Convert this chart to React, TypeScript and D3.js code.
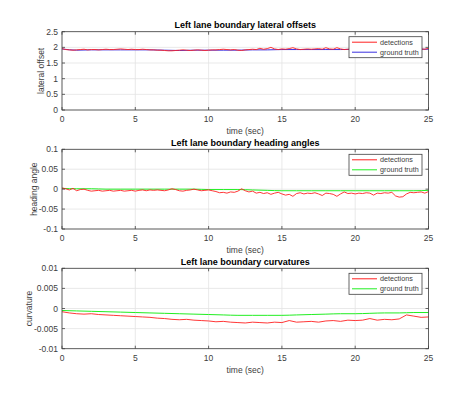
import React from "react";
import * as d3 from "d3";

const W = 474;
const H = 395;

const xTicks = [0, 5, 10, 15, 20, 25];

// Plot 1: lateral offsets
const latTicks = [0, 0.5, 1, 1.5, 2, 2.5];
const latTruth = [1.95, 1.91, 1.92, 1.92, 1.92, 1.92, 1.92, 1.91, 1.9, 1.91, 1.91, 1.91, 1.91, 1.92, 1.92, 1.93, 1.93, 1.93, 1.93, 1.93, 1.94, 1.94, 1.94, 1.94, 1.94, 1.94];
const latDet = [
  1.96, 1.93, 1.92, 1.91, 1.92, 1.93, 1.94, 1.92, 1.93, 1.93, 1.92, 1.93, 1.94, 1.93, 1.93, 1.94,
  1.95, 1.94, 1.93, 1.94, 1.93, 1.93, 1.94, 1.93,
  1.92, 1.92, 1.91, 1.91, 1.9, 1.89, 1.89, 1.9,
  1.91, 1.92, 1.91, 1.9, 1.91, 1.92, 1.91, 1.9,
  1.91, 1.92, 1.92, 1.93, 1.94, 1.93, 1.92, 1.93,
  1.91, 1.9, 1.92, 1.93, 1.94, 1.93, 1.97, 1.94,
  1.96, 2.0, 1.95, 1.93, 1.95, 1.94, 1.96, 1.99,
  1.95, 1.93, 1.94, 1.95, 1.94, 1.95, 1.96, 1.94,
  1.99, 1.95, 1.94, 1.99, 1.95, 1.93, 1.94, 1.95,
  1.94, 1.95, 1.94, 1.95, 1.96, 1.95, 1.94, 1.95,
  1.96, 1.94, 1.95, 1.94, 1.95, 1.96, 1.95, 1.94,
  1.95, 1.94, 1.95, 1.94, 1.97,
];

// Plot 2: heading angles
const headTicks = [-0.1, -0.05, 0, 0.05, 0.1];
const headTruth = [0.002, 0.001, 0.001, 0, 0, 0, 0, 0, 0, 0, -0.001, -0.001, -0.001, -0.002, -0.003, -0.004, -0.004, -0.004, -0.004, -0.004, -0.004, -0.004, -0.004, -0.004, -0.004, -0.003];
const headDet = [
  0.003, 0.001, -0.002, 0.002, -0.004, -0.001, 0, -0.003, -0.005, -0.004, -0.003, -0.005, -0.004, -0.003, -0.005, -0.004,
  -0.003, -0.005, -0.004, -0.003, -0.005, -0.003, -0.002, -0.004,
  -0.002, -0.003, -0.002, -0.003, -0.004, -0.002, 0.001, -0.001,
  -0.004, -0.005, -0.003, -0.002, 0.0, -0.002, -0.004, -0.003,
  -0.002, -0.004, -0.006, -0.009, -0.008, -0.01, -0.007, -0.008,
  -0.005, 0.001, -0.004, -0.007, -0.005, -0.01, -0.008, -0.011,
  -0.009, -0.013, -0.01, -0.008, -0.012, -0.015, -0.013, -0.018,
  -0.011, -0.009, -0.012, -0.01, -0.011, -0.009, -0.012, -0.016,
  -0.01, -0.011, -0.013, -0.018, -0.012, -0.007, -0.011, -0.01,
  -0.012, -0.01, -0.011, -0.009, -0.01, -0.015, -0.01, -0.011,
  -0.009, -0.01, -0.008, -0.017, -0.02, -0.019, -0.012, -0.008,
  -0.009, -0.008, -0.007, -0.01, -0.006,
];

// Plot 3: curvatures
const curvTicks = [-0.01, -0.005, 0, 0.005, 0.01];
const curvTruth = [-0.0005, -0.0006, -0.0007, -0.0008, -0.0009, -0.001, -0.0011, -0.0012, -0.0013, -0.0014, -0.0015, -0.0016, -0.0017, -0.0017, -0.0017, -0.0017, -0.0016, -0.0015, -0.0014, -0.0013, -0.0013, -0.0012, -0.0011, -0.0011, -0.001, -0.001];
const curvDet = [
  -0.0008, -0.0011, -0.0013, -0.0014, -0.0013, -0.0015, -0.0016, -0.0017, -0.0018, -0.0019,
  -0.002, -0.0021, -0.0022, -0.0024, -0.0025, -0.0027, -0.0028, -0.0027, -0.0029, -0.003,
  -0.0031, -0.0033, -0.0032, -0.0034, -0.0035, -0.0036, -0.0034, -0.0035, -0.0036, -0.0034,
  -0.0035, -0.003, -0.0034, -0.0033, -0.0032, -0.0034, -0.0031, -0.003, -0.0032, -0.0029,
  -0.003, -0.0029, -0.0025, -0.0029, -0.0027, -0.0028, -0.0026, -0.0016, -0.0019, -0.0022, -0.0021,
];

const titles = ["Left lane boundary lateral offsets", "Left lane boundary heading angles", "Left lane boundary curvatures"];
const yLabels = ["lateral offset", "heading angle", "curvature"];
const legendLabels = ["detections", "ground truth"];

const FONT = "Liberation Sans, Arial, Helvetica, sans-serif";
const AX = "#404040";
const GRID = "#e3e3e3";

type PanelProps = {
  top: number;
  bottom: number;
  yDomain: [number, number];
  yTicks: number[];
  det: number[];
  truth: number[];
  truthColor: string;
  title: string;
  yLabel: string;
  yLabelX: number;
};

const L = 62;
const R = 428.5;

function Panel(p: PanelProps) {
  const x = d3.scaleLinear().domain([0, 25]).range([L, R]);
  const y = d3.scaleLinear().domain(p.yDomain).range([p.bottom, p.top]);
  const detT = (i: number) => (i * 25) / (p.det.length - 1);
  const truT = (i: number) => (i * 25) / (p.truth.length - 1);
  const lineDet = d3.line<number>().x((d, i) => x(detT(i))).y((d) => y(d));
  const lineTru = d3.line<number>().x((d, i) => x(truT(i))).y((d) => y(d)).curve(d3.curveMonotoneX);
  const fmt = (v: number) => String(+v.toPrecision(6));
  const lx = 349, ly = p.top + 5, lw = 73, lh = 21;
  return (
    <g>
      {xTicks.map((t) => (
        <line key={"gx" + t} x1={x(t)} x2={x(t)} y1={p.top} y2={p.bottom} stroke={GRID} strokeWidth={0.8} />
      ))}
      {p.yTicks.map((t) => (
        <line key={"gy" + t} x1={L} x2={R} y1={y(t)} y2={y(t)} stroke={GRID} strokeWidth={0.8} />
      ))}
      <path d={lineTru(p.truth) || ""} fill="none" stroke={p.truthColor} strokeWidth={1} />
      <path d={lineDet(p.det) || ""} fill="none" stroke="#ff2020" strokeWidth={0.9} />
      <rect x={L} y={p.top} width={R - L} height={p.bottom - p.top} fill="none" stroke={AX} strokeWidth={0.8} />
      {xTicks.map((t) => (
        <g key={"tx" + t}>
          <line x1={x(t)} x2={x(t)} y1={p.bottom} y2={p.bottom - 3} stroke={AX} strokeWidth={0.8} />
          <line x1={x(t)} x2={x(t)} y1={p.top} y2={p.top + 3} stroke={AX} strokeWidth={0.8} />
          <text x={x(t)} y={p.bottom + 12} textAnchor="middle" fontSize={8.5} fill={AX} fontFamily={FONT}>
            {t}
          </text>
        </g>
      ))}
      {p.yTicks.map((t) => (
        <g key={"ty" + t}>
          <line x1={L} x2={L + 3} y1={y(t)} y2={y(t)} stroke={AX} strokeWidth={0.8} />
          <line x1={R} x2={R - 3} y1={y(t)} y2={y(t)} stroke={AX} strokeWidth={0.8} />
          <text x={L - 4} y={y(t) + 3} textAnchor="end" fontSize={8.5} fill={AX} fontFamily={FONT}>
            {fmt(t)}
          </text>
        </g>
      ))}
      <text x={(L + R) / 2} y={p.bottom + 24} textAnchor="middle" fontSize={8.5} fill={AX} fontFamily={FONT}>
        time (sec)
      </text>
      <text x={(L + R) / 2} y={p.top - 3.5} textAnchor="middle" fontSize={9} fontWeight="bold" fill="#000" fontFamily={FONT}>
        {p.title}
      </text>
      <text
        transform={`translate(${p.yLabelX},${(p.top + p.bottom) / 2}) rotate(-90)`}
        textAnchor="middle"
        fontSize={8.5}
        fill={AX}
        fontFamily={FONT}
      >
        {p.yLabel}
      </text>
      <rect x={lx} y={ly} width={lw} height={lh} fill="#fff" stroke={AX} strokeWidth={0.8} />
      <line x1={lx + 3} x2={lx + 28} y1={ly + 5.5} y2={ly + 5.5} stroke="#ff2020" strokeWidth={1} />
      <line x1={lx + 3} x2={lx + 28} y1={ly + 15.5} y2={ly + 15.5} stroke={p.truthColor} strokeWidth={1} />
      <text x={lx + 31} y={ly + 8} fontSize={7.2} fill={AX} fontFamily={FONT}>
        {legendLabels[0]}
      </text>
      <text x={lx + 31} y={ly + 18} fontSize={7.2} fill={AX} fontFamily={FONT}>
        {legendLabels[1]}
      </text>
    </g>
  );
}

export default function App() {
  return (
    <svg width={W} height={H} style={{ position: "absolute", left: 0, top: 0, background: "#fff" }}>
      <rect x={0} y={0} width={W} height={H} fill="#fff" />
      <Panel top={31.7} bottom={110} yDomain={[0, 2.5]} yTicks={latTicks} det={latDet} truth={latTruth} truthColor="#3a30e0" title={titles[0]} yLabel={yLabels[0]} yLabelX={44} />
      <Panel top={149.3} bottom={229} yDomain={[-0.1, 0.1]} yTicks={headTicks} det={headDet} truth={headTruth} truthColor="#22ee22" title={titles[1]} yLabel={yLabels[1]} yLabelX={37} />
      <Panel top={268.3} bottom={348.7} yDomain={[-0.01, 0.01]} yTicks={curvTicks} det={curvDet} truth={curvTruth} truthColor="#22ee22" title={titles[2]} yLabel={yLabels[2]} yLabelX={32} />
    </svg>
  );
}
